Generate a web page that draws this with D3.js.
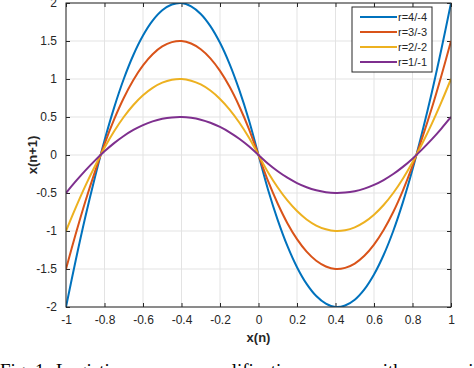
<!DOCTYPE html>
<html>
<head>
<meta charset="utf-8">
<script src="https://cdn.jsdelivr.net/npm/d3@7"></script>
<style>
  body { margin: 0; background: #fff; }
  svg { display: block; }
</style>
</head>
<body>
<div id="graph"></div>
<script>
// x samples, every 0.05
var xs = d3.range(41).map(function(i) { return +(-1 + i * 0.05).toFixed(2); });

// series values
var r4 = [-2, -1.392, -0.82, -0.296, 0.192, 0.624, 1.0, 1.316, 1.572, 1.768, 1.904, 1.98, 2, 1.956, 1.856, 1.696, 1.476, 1.196, 0.856, 0.46, 0,
  -0.46, -0.856, -1.196, -1.476, -1.696, -1.856, -1.956, -2, -1.98, -1.904, -1.768, -1.572, -1.316, -1.0, -0.624, -0.192, 0.296, 0.82, 1.392, 2];
var r3 = [-1.5, -1.044, -0.615, -0.222, 0.144, 0.468, 0.75, 0.987, 1.179, 1.326, 1.428, 1.485, 1.5, 1.467, 1.392, 1.272, 1.107, 0.897, 0.642, 0.345, 0,
  -0.345, -0.642, -0.897, -1.107, -1.272, -1.392, -1.467, -1.5, -1.485, -1.428, -1.326, -1.179, -0.987, -0.75, -0.468, -0.144, 0.222, 0.615, 1.044, 1.5];
var r2 = [-1.0, -0.696, -0.41, -0.148, 0.096, 0.312, 0.5, 0.658, 0.786, 0.884, 0.952, 0.99, 1.0, 0.978, 0.928, 0.848, 0.738, 0.598, 0.428, 0.23, 0,
  -0.23, -0.428, -0.598, -0.738, -0.848, -0.928, -0.978, -1.0, -0.99, -0.952, -0.884, -0.786, -0.658, -0.5, -0.312, -0.096, 0.148, 0.41, 0.696, 1.0];
var r1 = [-0.5, -0.348, -0.205, -0.074, 0.048, 0.156, 0.25, 0.329, 0.393, 0.442, 0.476, 0.495, 0.5, 0.489, 0.464, 0.424, 0.369, 0.299, 0.214, 0.115, 0,
  -0.115, -0.214, -0.299, -0.369, -0.424, -0.464, -0.489, -0.5, -0.495, -0.476, -0.442, -0.393, -0.329, -0.25, -0.156, -0.048, 0.074, 0.205, 0.348, 0.5];

var seriesNames = ["r=4/-4", "r=3/-3", "r=2/-2", "r=1/-1"];
var seriesValues = [r4, r3, r2, r1];
var seriesColors = ["#0072BD", "#D95319", "#EDB120", "#7E2F8E"];

var xTicks = [-1, -0.8, -0.6, -0.4, -0.2, 0, 0.2, 0.4, 0.6, 0.8, 1];
var yTicks = [-2, -1.5, -1, -0.5, 0, 0.5, 1, 1.5, 2];

// caption words (only their tops show at the bottom edge) and where they start
var captionWords = ["Fig.", "1.", "Logistic", "map", "as", "an", "amplification", "curves", "with", "our", "various"];
var captionX = [0, 35, 56, 122, 159, 178, 199, 307, 369, 411, 444];

var W = 474, H = 368;
var margin = {left: 66, right: 23, top: 3, bottom: 61};
var iw = W - margin.left - margin.right;
var ih = H - margin.top - margin.bottom;

var svg = d3.select("#graph").append("svg")
    .attr("width", W)
    .attr("height", H);

var g = svg.append("g")
    .attr("transform", "translate(" + margin.left + "," + margin.top + ")");

var x = d3.scaleLinear().domain([-1, 1]).range([0, iw]);
var y = d3.scaleLinear().domain([-2, 2]).range([ih, 0]);

// grid
g.append("g").selectAll("line").data(xTicks).join("line")
    .attr("x1", d => x(d)).attr("x2", d => x(d))
    .attr("y1", 0).attr("y2", ih)
    .attr("stroke", "#e3e3e3").attr("stroke-width", 1);
g.append("g").selectAll("line").data(yTicks).join("line")
    .attr("y1", d => y(d)).attr("y2", d => y(d))
    .attr("x1", 0).attr("x2", iw)
    .attr("stroke", "#e3e3e3").attr("stroke-width", 1);

// axes, ticks pointing inward like matlab
function styleAxis(sel) {
    sel.select(".domain").remove();
    sel.selectAll(".tick line").attr("stroke", "#262626");
    sel.selectAll(".tick text")
        .attr("fill", "#262626")
        .style("font-family", "'Liberation Sans', Arial, sans-serif")
        .style("font-size", "12px");
}
var plain = d => String(d);

g.append("g")
    .attr("transform", "translate(0," + ih + ")")
    .call(d3.axisBottom(x).tickValues(xTicks).tickFormat(plain).tickSizeInner(-4).tickSizeOuter(0).tickPadding(8))
    .call(styleAxis);
g.append("g")
    .call(d3.axisTop(x).tickValues(xTicks).tickFormat("").tickSizeInner(-4).tickSizeOuter(0))
    .call(styleAxis);
g.append("g")
    .call(d3.axisLeft(y).tickValues(yTicks).tickFormat(plain).tickSizeInner(-4).tickSizeOuter(0).tickPadding(9))
    .call(styleAxis);
g.append("g")
    .attr("transform", "translate(" + iw + ",0)")
    .call(d3.axisRight(y).tickValues(yTicks).tickFormat("").tickSizeInner(-4).tickSizeOuter(0))
    .call(styleAxis);

// curves
var line = d3.line()
    .x((d, i) => x(xs[i]))
    .y(d => y(d))
    .curve(d3.curveCatmullRom);

g.append("defs").append("clipPath").attr("id", "clip")
    .append("rect").attr("width", iw).attr("height", ih);

g.append("g").attr("clip-path", "url(#clip)")
    .selectAll("path").data(seriesValues).join("path")
    .attr("d", line)
    .attr("fill", "none")
    .attr("stroke", (d, i) => seriesColors[i])
    .attr("stroke-width", 2);

// box
g.append("rect")
    .attr("width", iw).attr("height", ih)
    .attr("fill", "none")
    .attr("stroke", "#262626")
    .attr("stroke-width", 1);

// axis labels
svg.append("text")
    .attr("x", margin.left + iw / 2)
    .attr("y", 342)
    .attr("text-anchor", "middle")
    .style("font-family", "'Liberation Sans', Arial, sans-serif")
    .style("font-size", "13px")
    .style("font-weight", "bold")
    .attr("fill", "#262626")
    .text("x(n)");

svg.append("text")
    .attr("transform", "translate(37," + (margin.top + ih / 2) + ") rotate(-90)")
    .attr("text-anchor", "middle")
    .style("font-family", "'Liberation Sans', Arial, sans-serif")
    .style("font-size", "13px")
    .style("font-weight", "bold")
    .attr("fill", "#262626")
    .text("x(n+1)");

// legend
var legend = svg.append("g").attr("transform", "translate(352,7)");
legend.append("rect")
    .attr("width", 80).attr("height", 65)
    .attr("fill", "#fff")
    .attr("stroke", "#262626")
    .attr("stroke-width", 1);
var items = legend.selectAll("g.item").data(seriesNames).join("g")
    .attr("class", "item")
    .attr("transform", (d, i) => "translate(0," + (10 + i * 15) + ")");
items.append("line")
    .attr("x1", 8).attr("x2", 45)
    .attr("stroke", (d, i) => seriesColors[i])
    .attr("stroke-width", 2);
items.append("text")
    .attr("x", 46).attr("y", 4)
    .style("font-family", "'Liberation Sans', Arial, sans-serif")
    .style("font-size", "11px")
    .attr("fill", "#262626")
    .text(d => d);

// caption, cut off by the bottom of the image
svg.append("g").selectAll("text").data(captionWords).join("text")
    .attr("x", (d, i) => captionX[i])
    .attr("y", 377)
    .style("font-family", "'Liberation Serif', 'Times New Roman', serif")
    .style("font-size", "19px")
    .attr("fill", "#000")
    .text(d => d);
</script>
</body>
</html>
